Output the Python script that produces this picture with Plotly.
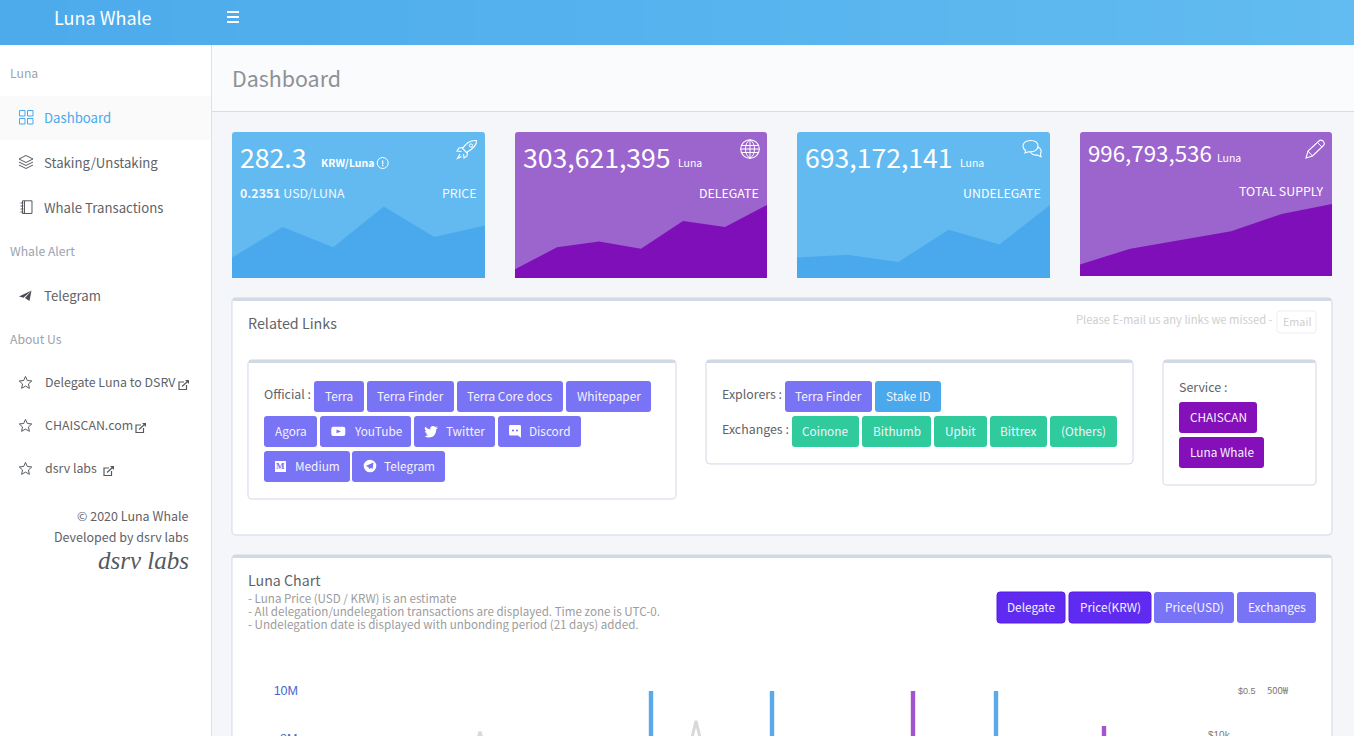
import math
import re

import plotly.graph_objects as go

W = 1354
H = 736
FONT = "Noto Sans CJK KR"

# small card charts
price_vals = [14, 35, 21, 49, 28, 36]
delegate_vals = [6, 21, 25, 20, 39, 35, 50]
undelegate_vals = [14, 16, 11, 33, 23, 50]
supply_vals = [8, 19, 25, 31, 43, 50]

# big chart, x is days on a hidden axis
undelegate_days = [34.8, 46.9, 69.3]
undelegate_amount = [10000000, 10000000, 10000000]
delegate_days = [61.0, 80.1]
delegate_amount = [10000000, 8530000]
krw_days = [17.1, 17.7, 18.3, 28.0, 38.7, 39.3, 39.9, 45.0]
krw_price = [370, 414, 370, 300, 384, 437, 384, 320]
usd_days = [39.3]
usd_price = [0.37]
exchange_days = [39.3]
exchange_vol = [9000]

BLUE = "#63baf1"
BLUE_DK = "#4aa9ec"
PURPLE = "#9c64cd"
PURPLE_DK = "#7f0fb9"
BTN = "#7973f5"
GREEN = "#2fcb9c"
BORDER = "#d1d9e4"
TXT = "#5f6368"

shapes = []
notes = []


def px(x, y):
    return "%.5f,%.5f" % (x / W, 1 - y / H)


def path(d, fill=None, line=None, lw=1, layer="above"):
    # d is an svg path in page pixels, turned into paper coordinates here
    nums = re.findall(r"[A-Z]|-?[\d.]+", d)
    out = []
    pair = []
    for t in nums:
        if t.isalpha():
            out.append(t)
        else:
            pair.append(float(t))
            if len(pair) == 2:
                out.append(px(pair[0], pair[1]))
                pair = []
    shapes.append(dict(type="path", path=" ".join(out), xref="paper", yref="paper", layer=layer,
                       fillcolor=fill if fill else "rgba(0,0,0,0)",
                       line=dict(color=line if line else "rgba(0,0,0,0)", width=lw if line else 0)))


def rect(x0, y0, x1, y1, fill, layer="below"):
    shapes.append(dict(type="rect", xref="paper", yref="paper", x0=x0 / W, x1=x1 / W, y0=1 - y0 / H, y1=1 - y1 / H,
                       fillcolor=fill, line=dict(width=0), layer=layer))


def rrect(x0, y0, x1, y1, fill, r=3, line=None, lw=1, layer="below"):
    d = "M%s %s L%s %s Q%s %s %s %s L%s %s Q%s %s %s %s L%s %s Q%s %s %s %s L%s %s Q%s %s %s %s Z" % (
        x0 + r, y0, x1 - r, y0, x1, y0, x1, y0 + r, x1, y1 - r, x1, y1, x1 - r, y1,
        x0 + r, y1, x0, y1, x0, y1 - r, x0, y0 + r, x0, y0, x0 + r, y0)
    path(d, fill, line, lw, layer)


def circle(cx, cy, r, fill=None, line=None, lw=1):
    shapes.append(dict(type="circle", xref="paper", yref="paper", x0=(cx - r) / W, x1=(cx + r) / W,
                       y0=1 - (cy - r) / H, y1=1 - (cy + r) / H, layer="above",
                       fillcolor=fill if fill else "rgba(0,0,0,0)",
                       line=dict(color=line if line else "rgba(0,0,0,0)", width=lw if line else 0)))


def txt(x, y, s, size=14, color=TXT, anchor="left", font=FONT):
    if anchor == "left":
        x -= 1
    elif anchor == "right":
        x += 1
    if font == FONT:
        y -= 0.6
    notes.append(dict(x=x / W, y=1 - y / H, xref="paper", yref="paper", text=s, showarrow=False,
                      xanchor=anchor, yanchor="middle", borderpad=0,
                      font=dict(family=font, size=size, color=color)))


def button(x0, x1, y0, label, fill, text_x=None, edge=None):
    rrect(x0, y0, x1, y0 + 31, fill, 3, edge)
    if text_x is None:
        txt((x0 + x1) / 2, y0 + 15, label, 11.8, "#f4f3ff", "center")
    else:
        txt(text_x, y0 + 15, label, 11.8, "#f4f3ff")


def panel(x0, y0, x1, y1, r=4):
    rrect(x0, y0, x1, y1, "#ffffff", r, BORDER, 1)
    rect(x0 + 1, y0, x1 - 1, y0 + 3, BORDER)


def star(cx, cy):
    pts = []
    for i in range(10):
        r = 6.6 if i % 2 == 0 else 3.1
        a = -math.pi / 2 + i * math.pi / 5
        pts.append("%.2f %.2f" % (cx + r * math.cos(a), cy + r * math.sin(a)))
    path("M" + " L".join(pts) + " Z", None, "#555a60", 1)


def ext(x, y):
    path("M%s %s L%s %s L%s %s L%s %s L%s %s" % (x + 6, y + 2, x + 1, y + 2, x + 1, y + 9.5, x + 8.5, y + 9.5, x + 8.5, y + 5),
         None, "#555a60", 1.2)
    path("M%s %s L%s %s" % (x + 4, y + 6.5, x + 9.5, y + 1.5), None, "#555a60", 1.2)
    path("M%s %s L%s %s L%s %s Z" % (x + 7, y, x + 11, y, x + 11, y + 4), "#555a60")


# page background
rect(0, 0, W, H, "#f4f6fa")
rect(0, 45, 211, H, "#ffffff")
rect(211, 45, 212, H, "#dde1ea")
rect(212, 45, W, 111, "#fafbfd")
rect(212, 111, W, 112, "#d8dee6")
rect(0, 96, 211, 140, "#fafafa")

# header gradient, left to right
steps = 40
for i in range(steps):
    t = i / (steps - 1)
    col = "rgb(%d,%d,%d)" % (77 + 21 * t, 171 + 17 * t, 236 + 5 * t)
    rect(W * i / steps, 0, W * (i + 1) / steps + 1, 45, col)

txt(54, 18, "Luna Whale", 18, "#ffffff")
for yy in [11, 16, 21]:
    rect(227, yy, 239, yy + 2, "#ffffff", "above")
txt(232, 78, "Dashboard", 21.4, "#8e9195")

# sidebar
txt(10, 74, "Luna", 12.2, "#9aa3b0")
txt(44, 118, "Dashboard", 13.2, BLUE_DK)
txt(44, 163, "Staking/Unstaking", 13.2)
txt(44, 208.5, "Whale Transactions", 13.2)
txt(10, 252, "Whale Alert", 12.2, "#9aa3b0")
txt(44, 296, "Telegram", 13.2)
txt(10, 340, "About Us", 12.2, "#9aa3b0")
txt(45, 383, "Delegate Luna to DSRV", 12.4)
txt(45, 426, "CHAISCAN.com", 12.4)
txt(45, 469, "dsrv labs", 12.4)
txt(189, 516, "© 2020 Luna Whale", 12.5, TXT, "right")
txt(189, 537, "Developed by dsrv labs", 12.5, TXT, "right")
txt(189, 560, "<i>dsrv labs</i>", 25, "#555a60", "right", "Liberation Serif")

for gx, gy in [(19.5, 110.5), (27.5, 110.5), (19.5, 118.5), (27.5, 118.5)]:
    path("M%s %s L%s %s L%s %s L%s %s Z" % (gx, gy, gx + 5.5, gy, gx + 5.5, gy + 5.5, gx, gy + 5.5), None, BLUE_DK, 1)
path("M26 155.5 L33 159 L26 162.5 L19 159 Z", None, "#555a60", 1)
path("M19 162 L26 165.5 L33 162", None, "#555a60", 1)
path("M19 165 L26 168.5 L33 165", None, "#555a60", 1)
path("M22.5 200.8 L32 200.8 L32 213.5 L22.5 213.5 Z", None, "#555a60", 1)
path("M24.5 200.8 L24.5 213.5", None, "#555a60", 1)
for yy in [203, 206, 209, 212]:
    path("M20.5 %s L23.5 %s" % (yy, yy), None, "#555a60", 1)
path("M31.5 290.5 L19 296.5 L23.5 297.8 L31.5 290.5 L25 298 L29.5 301 Z", "#4a4d52")
for yy in [383, 426, 469]:
    star(25.5, yy)
ext(178, 380)
ext(135, 423)
ext(103, 466)

# cards
rrect(232, 132, 485, 278, BLUE)
rrect(515, 132, 767, 278, PURPLE)
rrect(797, 132, 1050, 278, BLUE)
rrect(1080, 132, 1332, 276, PURPLE)

txt(240, 157, "282.3", 26.6, "#ffffff")
txt(321, 163, "<b>KRW/Luna</b>", 10.5, "#ffffff")
txt(240, 194, "<b>0.2351</b> USD/LUNA", 12.4, "#f3f8fe")
txt(477, 194, "PRICE", 12.4, "#f3f8fe", "right")
txt(523, 157, "303,621,395", 26.6, "#ffffff")
txt(678, 163, "Luna", 10.5, "#ffffff")
txt(759, 194, "DELEGATE", 12.4, "#ffffff", "right")
txt(805, 157, "693,172,141", 26.6, "#ffffff")
txt(960, 163, "Luna", 10.5, "#ffffff")
txt(1041, 194, "UNDELEGATE", 12.4, "#ffffff", "right")
txt(1088, 153, "996,793,536", 22.3, "#ffffff")
txt(1217, 158, "Luna", 10.5, "#ffffff")
txt(1324, 192, "TOTAL SUPPLY", 12.4, "#ffffff", "right")

# card icons
circle(382.7, 163, 5.5, None, "#ffffff", 1)
path("M382.7 160.5 L382.7 164.5", None, "#ffffff", 1.2)
path("M382.7 165 L382.7 166.2", None, "#ffffff", 1.2)
path("M476.5 140.5 C471 140 466 143 462.5 148.5 L466.5 152.5 C472 149.5 477 146 476.5 140.5 Z", None, "#ffffff", 1.1)
circle(471, 145.5, 1.6, None, "#ffffff", 1)
path("M463 147.5 L459 148 L457 151 L461.5 151.5", None, "#ffffff", 1.1)
path("M467.5 152 L467 156 L464 158 L463.5 154", None, "#ffffff", 1.1)
path("M460 154 L457.5 158.5 L461.5 156.5", None, "#ffffff", 1.1)
circle(750, 149, 9.3, None, "#ffffff", 1.1)
path("M750 139.7 C744 143 744 155 750 158.3 C756 155 756 143 750 139.7 Z", None, "#ffffff", 1)
path("M750 139.7 L750 158.3", None, "#ffffff", 1)
path("M741 145.5 L759 145.5", None, "#ffffff", 1)
path("M740.7 149 L759.3 149", None, "#ffffff", 1)
path("M741 152.5 L759 152.5", None, "#ffffff", 1)
path("M1030.5 140.5 C1025.5 140.5 1023 143 1023 146 C1023 148 1024 149.5 1025.5 150.5 L1025 153 L1028.5 151.7 C1034 152.5 1038 150 1038 146 C1038 143 1035.5 140.5 1030.5 140.5 Z",
     None, "#ffffff", 1.1)
path("M1038 147 C1041 148.5 1042 151 1040.5 153.5 L1041 156.8 L1037.5 155 C1034.5 155.5 1032 154.5 1030.5 152.5", None, "#ffffff", 1.1)
path("M1306 158 L1308 151 L1319.5 140.5 Q1321 139.5 1323 141 L1324 142.5 Q1325 144 1323.5 145.5 L1312.5 156 Z", None, "#ffffff", 1.1)
path("M1308 151 L1312.5 156", None, "#ffffff", 1)
path("M1317.5 142.5 L1322 147", None, "#ffffff", 1)

# related links
panel(232, 298, 1332, 535)
txt(248, 323.5, "Related Links", 14.3, TXT)
txt(1273, 320, "Please E-mail us any links we missed -", 11.2, "#cfcfcf", "right")
rrect(1277, 311, 1316, 333, "#ffffff", 3, "#eeeeee", 1)
txt(1296.5, 322, "Email", 10.8, "#cfcfcf", "center")
panel(248, 360, 676, 499)
panel(706, 360, 1133, 464)
panel(1163, 360, 1316, 485)

txt(264, 395, "Official :", 12.4)
button(314, 364, 381, "Terra", BTN)
button(367, 454, 381, "Terra Finder", BTN)
button(457, 563, 381, "Terra Core docs", BTN)
button(566, 651, 381, "Whitepaper", BTN)
button(264, 317, 416, "Agora", BTN)
button(320, 411, 416, "YouTube", BTN, 353.5)
button(414, 495, 416, "Twitter", BTN, 446)
button(498, 581, 416, "Discord", BTN, 529)
button(264, 350, 451, "Medium", BTN, 295)
button(352, 445, 451, "Telegram", BTN, 384)

rrect(331.3, 426.7, 345.3, 436, "#ffffff", 2, layer="above")
path("M336.5 429.5 L341 431.4 L336.5 433.3 Z", BTN)
path("M438 427.5 Q436.8 428 436 428.1 Q437 427.5 437.4 426.3 Q436.3 427 435.2 427.1 Q434.3 426.1 433 426.1 Q430.3 426.1 430.3 428.8 L430.4 429.4 Q427 429.2 425.2 426.8 Q424 429.3 426.2 431 Q425.5 431 424.9 430.7 Q425 432.8 427 433.3 Q426.3 433.5 425.7 433.3 Q426.3 435 428.1 435.1 Q426.5 436.4 424.5 436.2 Q426.5 437.5 428.7 437.5 Q435.7 437.4 436.3 429.7 L436.3 429.2 Q437.4 428.5 438 427.5 Z", "#ffffff")
path("M510.5 425 L519.5 425 Q521 425 521 426.5 L521 437.8 L518 435.5 L510.5 435.5 Q509 435.5 509 434 L509 426.5 Q509 425 510.5 425 Z", "#ffffff")
circle(513, 430.5, 1.1, BTN)
circle(517, 430.5, 1.1, BTN)
rect(275, 461, 286, 472, "#ffffff", "above")
txt(280.5, 466, "<b>M</b>", 9, BTN, "center", "Liberation Serif")
circle(370, 466, 6.3, "#ffffff")
path("M373.5 462.5 L365.7 466 L368.3 466.9 L369.3 469.3 L370.8 467.8 L372.6 469 Z", BTN)

txt(722, 395, "Explorers :", 12.4)
button(785, 872, 381, "Terra Finder", BTN)
button(875, 941, 381, "Stake ID", BLUE_DK)
txt(722, 430, "Exchanges :", 12.4)
button(792, 859, 416, "Coinone", GREEN)
button(862, 931, 416, "Bithumb", GREEN)
button(934, 987, 416, "Upbit", GREEN)
button(990, 1047, 416, "Bittrex", GREEN)
button(1050, 1117, 416, "(Others)", GREEN)
txt(1179, 388, "Service :", 12.4)
button(1179, 1257, 402, "CHAISCAN", "#850fb9")
button(1179, 1264, 437, "Luna Whale", "#850fb9")

# luna chart panel
panel(232, 555, 1332, H + 10)
txt(248, 581, "Luna Chart", 14.2, TXT)
txt(248, 598.5, "- Luna Price (USD / KRW) is an estimate", 11.6, "#9c9c9c")
txt(248, 611.5, "- All delegation/undelegation transactions are displayed. Time zone is UTC-0.", 11.6, "#9c9c9c")
txt(248, 624.5, "- Undelegation date is displayed with unbonding period (21 days) added.", 11.6, "#9c9c9c")
button(997, 1065, 592, "Delegate", "#5f2bf0", edge="#5a18e8")
button(1069, 1151, 592, "Price(KRW)", "#5f2bf0", edge="#5a18e8")
button(1154, 1234, 592, "Price(USD)", BTN)
button(1237, 1316, 592, "Exchanges", BTN)
txt(297, 738.5, "8M", 12.5, "#4466cc", "right", "Liberation Sans")


def dom_x(x0, x1):
    return [x0 / W, x1 / W]


def dom_y(y0, y1):
    return [1 - y1 / H, 1 - y0 / H]


fig = go.Figure()


def card_chart(n, vals, color, x0, x1, y0, y1):
    fig.add_trace(go.Scatter(x=list(range(len(vals))), y=vals, xaxis="x%d" % n, yaxis="y%d" % n,
                             mode="lines", line=dict(width=0, color=color), fill="tozeroy", fillcolor=color,
                             hoverinfo="skip"))
    return {
        "xaxis%d" % n: dict(domain=dom_x(x0, x1), range=[0, len(vals) - 1], visible=False, anchor="y%d" % n),
        "yaxis%d" % n: dict(domain=dom_y(y0, y1), range=[0, 100], visible=False, anchor="x%d" % n),
    }


axes = {}
axes.update(card_chart(2, price_vals, BLUE_DK, 232, 485, 132, 278))
axes.update(card_chart(3, delegate_vals, PURPLE_DK, 515, 767, 132, 278))
axes.update(card_chart(4, undelegate_vals, BLUE_DK, 797, 1050, 132, 278))
axes.update(card_chart(5, supply_vals, PURPLE_DK, 1080, 1332, 132, 276))

# big chart
fig.add_trace(go.Scatter(x=krw_days, y=krw_price, xaxis="x", yaxis="y6", mode="lines",
                         line=dict(color="#d9d9d9", width=3), name="Price(KRW)"))
fig.add_trace(go.Scatter(x=usd_days, y=usd_price, xaxis="x", yaxis="y7", mode="lines",
                         line=dict(color="#d9d9d9", width=3), name="Price(USD)"))
fig.add_trace(go.Scatter(x=exchange_days, y=exchange_vol, xaxis="x", yaxis="y8", mode="lines",
                         line=dict(color="#d9d9d9", width=3), name="Exchanges"))
fig.add_trace(go.Bar(x=undelegate_days, y=undelegate_amount, xaxis="x", yaxis="y", width=0.44,
                     marker=dict(color="#5aa9ea", line=dict(width=0)), name="Undelegate"))
fig.add_trace(go.Bar(x=delegate_days, y=delegate_amount, xaxis="x", yaxis="y", width=0.44,
                     marker=dict(color="#a355cf", line=dict(width=0)), name="Delegate"))

small_tick = dict(family="Liberation Sans", size=9, color="#777777")
axes["xaxis"] = dict(domain=dom_x(303, 1203), range=[0, 90], visible=False, anchor="y")
axes["yaxis"] = dict(domain=dom_y(691, H), range=[8105000, 10000000], anchor="x", showgrid=False, zeroline=False,
                     showline=False, tickvals=[10000000], ticktext=["10M"], ticks="",
                     ticklabelstandoff=4, ticklabeloverflow="allow",
                     tickfont=dict(family="Liberation Sans", size=12.5, color="#4466cc"))
axes["yaxis6"] = dict(domain=dom_y(691, H), range=[405, 500], overlaying="y", side="right", anchor="free", position=1266 / W,
                      showgrid=False, zeroline=False, tickvals=[500], ticktext=["500₩"], ticks="",
                      tickfont=dict(family=FONT, size=9.5, color="#777777"), ticklabeloverflow="allow")
axes["yaxis7"] = dict(domain=dom_y(691, H), range=[0.405, 0.5], overlaying="y", side="right", anchor="free", position=1237 / W,
                      showgrid=False, zeroline=False, tickvals=[0.5], ticktext=["$0.5"], ticks="", tickfont=small_tick,
                      ticklabeloverflow="allow")
axes["yaxis8"] = dict(domain=dom_y(691, H), range=[9900, 14400], overlaying="y", side="right", anchor="free", position=1207 / W,
                      showgrid=False, zeroline=False, tickvals=[10000], ticktext=["$10k"], ticks="",
                      tickfont=dict(family="Liberation Sans", size=10, color="#777777"), ticklabeloverflow="allow")
# the default template turns automargin on, which shrinks the page
for k in axes:
    axes[k]["automargin"] = False

fig.update_layout(width=W, height=H, autosize=False, margin=dict(l=0, r=0, t=0, b=0), showlegend=False,
                  paper_bgcolor="#f4f6fa", plot_bgcolor="rgba(0,0,0,0)", barmode="overlay", font=dict(family=FONT),
                  shapes=shapes, annotations=notes, **axes)

fig.write_html("out.html", config=dict(displayModeBar=False),
               post_script="document.body.style.margin='0';document.documentElement.style.overflow='hidden';")
